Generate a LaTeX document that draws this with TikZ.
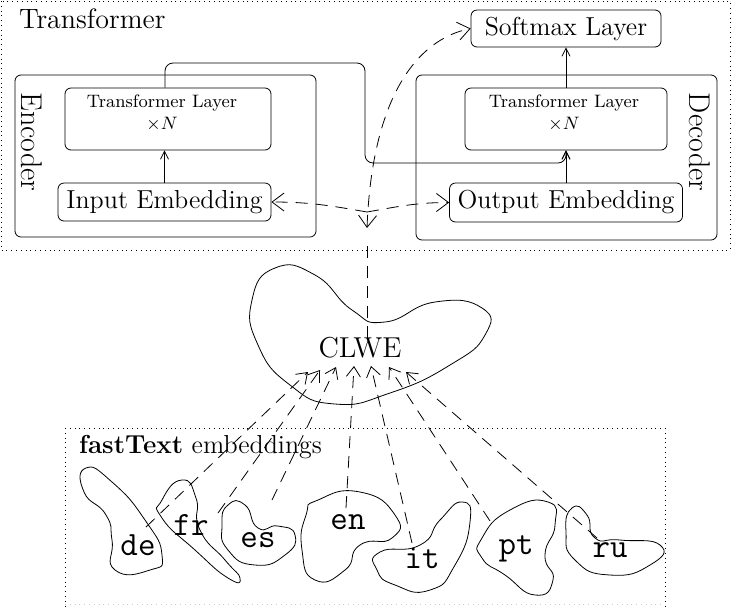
\documentclass[tikz,border=0pt]{standalone}
\usetikzlibrary{arrows.meta}
\begin{document}
\begin{tikzpicture}[x=0.5pt,y=-0.5pt,
  box/.style={draw,rounded corners=3pt,inner sep=0pt,font=\fontsize{13}{15}\selectfont},
  cont/.style={draw,rounded corners=3pt,inner sep=0pt},
  small/.style={align=center,font=\fontsize{9}{11}\selectfont},
  sarr/.style={-{Straight Barb[length=4pt,width=4pt]}},
  darr/.style={dashed,dash pattern=on 6pt off 4pt,-{Straight Barb[length=6pt,width=9pt]}},
  blob/.style={draw,thin},
  lang/.style={font=\fontsize{17}{19}\selectfont\ttfamily},
  dotbox/.style={draw,dotted}]
\useasboundingbox (0,0) rectangle (731,606);
\draw[dotbox] (1,1) rectangle (730,250);
\node[anchor=north west,font=\fontsize{14}{16}\selectfont] (ttl) at (12,2) {Transformer};
\node[cont,minimum width=150.5pt,minimum height=81pt] (enc) at (165.5,156) {};
\node[cont,minimum width=150.5pt,minimum height=82.5pt] (dec) at (566.5,157.5) {};
\node[rotate=-90,font=\fontsize{15}{17}\selectfont] (enct) at (32,142) {Encoder};
\node[rotate=-90,font=\fontsize{15}{17}\selectfont] (dect) at (700,142) {Decoder};
\node[box,minimum width=103pt,minimum height=31pt] (etl) at (168,119) {};
\node[box,minimum width=101pt,minimum height=31pt] (dtl) at (566,119) {};
\node[small] (etlt) at (162,113) {Transformer Layer\\$\times N$};
\node[small] (dtlt) at (564,113) {Transformer Layer\\$\times N$};
\node[box,minimum width=106.5pt,minimum height=19pt] (ie) at (164.5,202) {Input Embedding};
\node[box,minimum width=116.5pt,minimum height=19.5pt] (oe) at (566,202.5) {Output Embedding};
\node[box,minimum width=95pt,minimum height=18.5pt] (sm) at (566,28.5) {Softmax Layer};
\draw[sarr] (ie.north) -- (ie.north |- etl.south);
\draw[sarr] (oe.north) -- (dtl.south);
\draw[sarr] (dtl.north) -- (sm.south);
\draw[sarr,rounded corners=4pt] (etl.north -| 165,0) -- (165,63) -- (365,63) -- (365,163) -- (566,163) -- (dtl.south);
\coordinate (hub) at (367,212);
\coordinate (hub2) at (367,228);
\draw[darr] (hub) to[out=170,in=0] (ie.east);
\draw[darr] (hub) to[out=10,in=180] (oe.west);
\draw[darr,{Straight Barb[length=6pt,width=9pt]}-{Straight Barb[length=6pt,width=9pt]}] (hub2) .. controls (372,100) and (415,40) .. (sm.west);
% CLWE
\draw[blob] plot[smooth cycle,tension=0.9] coordinates {(252,300) (275,268) (315,275) (352,310) (385,322) (435,302) (482,308) (485,335) (450,365) (390,393) (335,404) (290,385) (258,345)};
\node[font=\fontsize{14.4}{16}\selectfont] (clwe) at (360,348) {CLWE};
\coordinate (ctop) at (367,338);
\draw[dashed,dash pattern=on 6pt off 4pt] (ctop) -- (367,242);
% fastText box
\draw[dotbox] (65,428) -- (665,428) -- (665,606);
\draw[dotbox] (65,428) -- (65,606);
\draw[dotted,gray!40] (65,604) -- (665,604);
\node[anchor=west,font=\fontsize{13}{15}\selectfont] (ft) at (72,447) {\textbf{fastText} embeddings};
% language blobs
\draw[blob] plot[smooth cycle,tension=1] coordinates {(86,468) (112,482) (145,520) (162,555) (150,570) (115,570) (112,540) (106,515) (84,492)};
\draw[blob] plot[smooth cycle,tension=1] coordinates {(162,500) (182,480) (196,498) (200,530) (225,560) (240,578) (228,578) (195,550) (162,518)};
\draw[blob] plot[smooth cycle,tension=1] coordinates {(228,505) (245,505) (258,528) (278,526) (295,535) (285,555) (255,565) (228,550) (222,525)};
\draw[blob] plot[smooth cycle,tension=1] coordinates {(318,500) (360,492) (395,515) (392,538) (360,545) (345,570) (315,580) (302,550) (306,515)};
\draw[blob] plot[smooth cycle,tension=1] coordinates {(380,552) (420,545) (440,520) (462,502) (470,522) (455,565) (430,590) (395,585) (377,570)};
\draw[blob] plot[smooth cycle,tension=1] coordinates {(482,538) (510,510) (548,502) (555,525) (545,555) (553,580) (535,595) (505,575) (482,558)};
\draw[blob] plot[smooth cycle,tension=1] coordinates {(572,508) (587,515) (595,538) (620,540) (660,545) (650,565) (610,575) (575,560) (566,532)};
\node[lang] (de) at (138,545) {de};
\node[lang] (fr) at (191,525) {fr};
\node[lang] (es) at (258,540) {es};
\node[lang] (en) at (348,522) {en};
\node[lang] (it) at (422,558) {it};
\node[lang] (pt) at (516,549) {pt};
\node[lang] (ru) at (610,550) {ru};
\coordinate (sde) at (146,527); \coordinate (tde) at (308,372);
\coordinate (sfr) at (218,513); \coordinate (tfr) at (320,370);
\coordinate (ses) at (272,500); \coordinate (tes) at (336,367);
\coordinate (sen) at (346,508); \coordinate (ten) at (354,366);
\coordinate (sit) at (412,543); \coordinate (tit) at (371,366);
\coordinate (spt) at (490,521); \coordinate (tpt) at (389,367);
\coordinate (sru) at (597,538); \coordinate (tru) at (406,372);
\foreach \l in {de,fr,es,en,it,pt,ru} \draw[darr,-{Straight Barb[length=5pt,width=7pt]}] (s\l) -- (t\l);
\end{tikzpicture}
\end{document}
